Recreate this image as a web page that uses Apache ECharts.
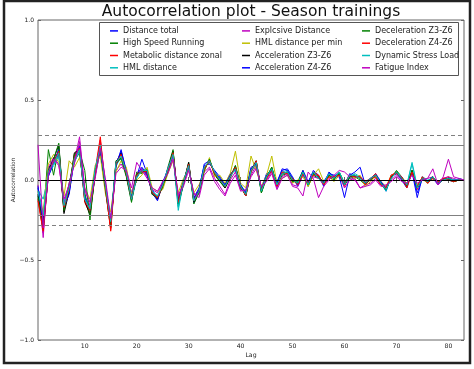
<!DOCTYPE html>
<html><head><meta charset="utf-8">
<script src="https://cdn.jsdelivr.net/npm/echarts@6/dist/echarts.min.js"></script>
<style>html,body{margin:0;padding:0;background:#fff}#c{width:474px;height:369px}</style>
</head><body><div id="c"></div>
<script>
const seriesNames = ["Distance total","High Speed Running","Metabolic distance zonal","HML distance","Explcsive Distance","HML distance per min","Acceleration Z3-Z6","Acceleration Z4-Z6","Deceleration Z3-Z6","Deceleration Z4-Z6","Dynamic Stress Load","Fatigue Index"];
const seriesColors = ["#0000ff","#008000","#ff0000","#00bfbf","#bf00bf","#bfbf00","#000000","#0000ff","#008000","#ff0000","#00bfbf","#bf00bf"];
const xTicks = [10,20,30,40,50,60,70,80];
const yTicks = [-1.0,-0.5,0.0,0.5,1.0];
const nObs = 83;

const distanceTotal = [
-0.05,-0.28,0.08,0.10,0.16,-0.16,-0.08,0.13,0.19,-0.10,
-0.18,0.07,0.20,-0.03,-0.26,0.08,0.18,0.06,-0.10,0.02,
0.13,0.04,-0.06,-0.12,-0.01,0.05,0.15,-0.12,0.00,0.08,
-0.11,-0.05,0.09,0.10,0.06,0.02,-0.03,0.04,0.06,-0.05,
-0.07,0.08,0.09,-0.05,0.04,0.05,-0.01,0.06,0.07,0.02,
-0.04,0.03,-0.02,0.06,0.03,-0.04,0.05,0.02,0.02,-0.11,
0.03,0.05,0.08,-0.03,0.01,0.04,-0.01,-0.07,0.03,0.04,
0.00,-0.05,0.05,-0.11,0.02,-0.02,0.01,-0.03,0.01,0.00,
-0.01,0.01,0.00];
const highSpeedRunning = [
-0.10,-0.25,0.19,0.03,0.21,-0.20,-0.02,0.12,0.17,-0.08,
-0.22,0.03,0.18,-0.07,-0.30,0.12,0.13,0.02,-0.14,0.05,
0.04,0.07,-0.09,-0.10,-0.05,0.08,0.19,-0.16,-0.03,0.11,
-0.15,-0.08,0.06,0.13,0.03,-0.01,-0.05,0.01,0.09,-0.03,
-0.10,0.05,0.12,-0.08,0.01,0.08,-0.04,0.03,0.04,-0.01,
-0.01,0.06,-0.04,0.03,0.01,-0.01,0.02,0.00,0.05,-0.02,
0.01,0.02,0.00,-0.03,0.01,0.02,-0.03,-0.05,0.01,0.06,
0.02,-0.03,0.05,-0.04,0.00,-0.01,0.01,-0.01,0.01,0.00,
-0.01,0.00,0.00];
const metabolicDistanceZonal = [
-0.12,-0.33,0.04,0.14,0.17,-0.19,-0.06,0.16,0.21,-0.14,
-0.21,0.06,0.27,-0.06,-0.31,0.11,0.14,0.05,-0.11,0.04,
0.05,0.04,-0.07,-0.12,-0.04,0.07,0.16,-0.13,-0.01,0.09,
-0.12,-0.06,0.08,0.11,0.05,0.01,-0.04,0.03,0.07,-0.05,
-0.08,0.07,0.10,-0.06,0.03,0.06,-0.02,0.05,0.04,0.01,
-0.03,0.04,-0.02,0.05,0.03,-0.03,0.04,0.02,0.03,-0.04,
0.03,0.02,0.02,-0.01,0.01,0.04,-0.03,-0.06,0.03,0.05,
0.01,-0.04,0.06,-0.06,0.02,-0.02,0.02,-0.02,0.01,0.02,
0.00,0.00,0.00];
const hmlDistance = [
-0.06,-0.12,0.03,0.09,0.15,-0.14,-0.03,0.11,0.18,-0.11,
-0.17,0.04,0.20,-0.04,-0.24,0.09,0.14,0.03,-0.13,0.01,
0.07,0.06,-0.07,-0.10,-0.04,0.07,0.16,-0.19,-0.01,0.10,
-0.14,-0.06,0.08,0.11,0.05,0.01,-0.03,0.03,0.07,-0.03,
-0.08,0.05,0.10,-0.06,0.03,0.06,-0.02,0.05,0.06,0.01,
-0.02,0.04,-0.03,0.05,0.01,-0.02,0.04,0.02,0.05,-0.02,
0.02,0.04,0.02,-0.02,0.01,0.03,-0.02,-0.07,0.02,0.05,
0.02,-0.03,0.11,-0.04,0.02,0.00,0.01,-0.02,0.00,0.01,
0.00,0.00,0.00];
const explosiveDistance = [
-0.03,-0.36,0.08,0.14,0.10,-0.15,-0.02,0.12,0.27,-0.06,
-0.16,0.02,0.24,-0.02,-0.27,0.06,0.10,0.05,-0.08,0.04,
0.07,0.02,-0.06,-0.08,-0.02,0.05,0.15,-0.10,-0.03,0.08,
-0.09,-0.09,0.05,0.08,0.01,-0.04,-0.09,0.00,0.05,-0.06,
-0.07,0.03,0.09,-0.05,0.00,0.05,-0.05,0.02,0.04,-0.03,
-0.04,0.03,-0.02,0.02,0.01,-0.03,0.01,0.02,0.03,-0.05,
0.00,0.01,-0.05,-0.03,-0.02,0.01,-0.03,-0.04,0.00,0.03,
0.00,-0.02,0.04,-0.03,0.00,0.01,0.02,-0.03,0.01,0.02,
0.01,0.00,0.00];
const hmlDistancePerMin = [
-0.07,-0.20,0.10,0.16,0.11,-0.10,0.12,0.08,0.14,-0.05,
-0.12,0.09,0.15,-0.09,-0.20,0.05,0.12,0.08,-0.09,0.00,
0.03,0.08,-0.05,-0.07,-0.06,0.04,0.12,-0.08,0.01,0.06,
-0.08,-0.03,0.05,0.14,0.02,0.03,-0.02,0.04,0.18,-0.02,
-0.05,0.15,0.06,-0.04,0.03,0.15,-0.02,0.01,0.03,-0.02,
0.00,0.02,-0.04,0.03,0.07,-0.01,0.02,-0.01,0.03,-0.03,
0.03,0.01,0.03,-0.04,-0.01,0.02,-0.01,-0.04,0.03,0.04,
0.02,-0.02,0.04,-0.03,0.01,-0.02,0.01,-0.01,0.00,0.01,
-0.01,0.00,0.00];
const accelerationZ3Z6 = [
-0.09,-0.29,0.06,0.13,0.22,-0.21,-0.07,0.17,0.19,-0.13,
-0.22,0.04,0.21,-0.05,-0.29,0.11,0.17,0.03,-0.12,0.02,
0.06,0.05,-0.09,-0.12,-0.03,0.06,0.18,-0.15,-0.02,0.11,
-0.14,-0.07,0.07,0.12,0.04,0.00,-0.05,0.02,0.08,-0.04,
-0.10,0.06,0.12,-0.07,0.02,0.07,-0.03,0.04,0.05,0.00,
-0.02,0.05,-0.03,0.04,0.02,-0.02,0.03,0.01,0.04,-0.03,
0.02,0.03,0.01,-0.02,0.00,0.03,-0.02,-0.06,0.02,0.05,
0.01,-0.04,0.06,-0.05,0.01,-0.01,0.02,-0.02,0.00,0.01,
-0.01,0.00,0.00];
const accelerationZ4Z6 = [
-0.04,-0.27,0.02,0.11,0.19,-0.17,-0.09,0.14,0.21,-0.11,
-0.19,0.06,0.19,-0.04,-0.27,0.09,0.19,0.05,-0.11,0.03,
0.08,0.03,-0.08,-0.13,-0.02,0.07,0.16,-0.13,-0.03,0.09,
-0.12,-0.06,0.10,0.12,0.05,0.01,-0.03,0.03,0.07,-0.03,
-0.08,0.07,0.10,-0.06,0.03,0.06,-0.02,0.07,0.06,0.01,
-0.03,0.06,-0.01,0.05,0.02,-0.01,0.04,0.03,0.03,-0.03,
0.04,0.02,0.02,-0.02,0.01,0.03,-0.01,-0.05,0.02,0.04,
0.02,-0.04,0.05,-0.08,0.01,-0.01,0.02,-0.02,0.00,0.01,
0.00,0.00,0.00];
const decelerationZ3Z6 = [
-0.11,-0.31,0.04,0.13,0.23,-0.19,-0.04,0.16,0.18,0.06,
-0.25,0.05,0.21,-0.06,-0.28,0.10,0.14,0.03,-0.13,0.04,
0.05,0.06,-0.09,-0.11,-0.04,0.05,0.18,-0.15,-0.02,0.10,
-0.13,-0.08,0.06,0.13,0.04,-0.01,-0.04,0.02,0.09,-0.05,
-0.09,0.06,0.11,-0.08,0.02,0.08,-0.03,0.04,0.05,0.00,
-0.02,0.05,-0.03,0.04,0.02,-0.02,0.03,0.01,0.04,-0.03,
0.02,0.03,0.01,-0.02,0.00,0.03,-0.02,-0.06,0.02,0.05,
0.01,-0.04,0.06,-0.05,0.01,-0.01,0.02,-0.02,0.00,0.01,
-0.01,0.00,0.00];
const decelerationZ4Z6 = [
-0.13,-0.32,0.05,0.11,0.18,-0.17,-0.06,0.14,0.20,-0.13,
-0.19,0.04,0.25,-0.05,-0.32,0.10,0.16,0.04,-0.12,0.03,
0.06,0.05,-0.08,-0.11,-0.03,0.06,0.17,-0.14,-0.02,0.10,
-0.13,-0.07,0.07,0.12,0.04,0.00,-0.04,0.02,0.08,-0.04,
-0.10,0.05,0.12,-0.06,0.01,0.06,-0.04,0.05,0.04,0.01,
-0.03,0.04,-0.02,0.03,0.03,-0.03,0.02,0.02,0.03,-0.02,
0.03,0.02,0.02,-0.03,0.01,0.02,-0.03,-0.05,0.03,0.04,
0.02,-0.05,0.05,-0.04,0.02,-0.02,0.01,-0.01,0.01,0.00,
-0.01,0.00,0.00];
const dynamicStressLoad = [
-0.07,-0.22,0.06,0.10,0.17,-0.16,-0.05,0.13,0.19,-0.12,
-0.18,0.07,0.21,-0.04,-0.26,0.11,0.15,0.05,-0.12,0.02,
0.06,0.06,-0.07,-0.10,-0.03,0.07,0.16,-0.17,-0.01,0.09,
-0.13,-0.07,0.08,0.12,0.05,0.00,-0.04,0.02,0.07,-0.04,
-0.09,0.06,0.11,-0.07,0.02,0.07,-0.03,0.04,0.05,0.00,
-0.02,0.05,-0.03,0.05,0.01,-0.02,0.04,0.01,0.05,-0.03,
0.03,0.03,0.01,-0.02,0.01,0.03,-0.02,-0.06,0.01,0.05,
0.01,-0.03,0.10,-0.05,0.01,-0.01,0.02,-0.02,0.00,0.01,
0.00,0.00,0.00];
const fatigueIndex = [
0.22,-0.30,0.03,0.13,0.09,-0.12,-0.03,0.10,0.24,-0.05,
-0.14,0.01,0.20,0.00,-0.24,0.04,0.08,0.06,-0.05,0.11,
0.06,0.01,-0.05,-0.07,-0.01,0.04,0.13,-0.09,-0.04,0.06,
-0.08,-0.11,0.03,0.07,-0.01,-0.06,-0.10,-0.02,0.03,-0.07,
-0.06,0.02,0.07,-0.04,-0.01,0.04,-0.06,0.01,0.03,-0.04,
-0.05,-0.10,0.05,0.01,-0.11,-0.04,0.00,0.03,0.06,0.05,
0.02,0.00,-0.05,-0.04,-0.03,0.00,-0.04,-0.03,-0.01,0.02,
-0.01,-0.02,0.03,-0.02,0.00,0.01,0.07,-0.03,0.02,0.13,
0.02,0.01,0.00];

const allValues = [distanceTotal,highSpeedRunning,metabolicDistanceZonal,hmlDistance,explosiveDistance,hmlDistancePerMin,accelerationZ3Z6,accelerationZ4Z6,decelerationZ3Z6,decelerationZ4Z6,dynamicStressLoad,fatigueIndex];
const lags = [];
for (let i = 1; i <= nObs; i++) lags.push(i);

const z95 = 1.959963984540054, z99 = 2.5758293035489;
const FONT = 'DejaVu Sans';

const series = allValues.map((vals, i) => ({
  name: seriesNames[i], type: 'line', data: lags.map((l, j) => [l, vals[j]]),
  showSymbol: false, symbol: 'none', color: seriesColors[i],
  lineStyle: {width: 1, color: seriesColors[i]}, z: i === 11 ? 5 : 2,
  emphasis: {disabled: true}
}));
series.push({
  type: 'line', data: [], z: 3, silent: true,
  markLine: {
    silent: true, symbol: 'none', label: {show: false}, animation: false,
    data: [
      {yAxis: z99/Math.sqrt(nObs), lineStyle: {color: '#808080', type: [4,3], width: 1}},
      {yAxis: -z99/Math.sqrt(nObs), lineStyle: {color: '#808080', type: [4,3], width: 1}},
      {yAxis: z95/Math.sqrt(nObs), lineStyle: {color: '#808080', type: 'solid', width: 1}},
      {yAxis: -z95/Math.sqrt(nObs), lineStyle: {color: '#808080', type: 'solid', width: 1}},
      {yAxis: 0, lineStyle: {color: '#000000', type: 'solid', width: 1}}
    ]
  }
});

function legendCol(names, left) {
  return {
    orient: 'vertical', left: left, top: 25, data: names, z: 8,
    icon: 'rect', itemWidth: 8, itemHeight: 1.5, itemGap: 0.5, padding: 0,
    selectedMode: false,
    textStyle: {fontFamily: FONT, fontSize: 8, color: '#222', lineHeight: 11.8}
  };
}

const fmtY = v => (v < 0 ? '\u2212' : '') + Math.abs(v).toFixed(1);

const option = {
  animation: false,
  backgroundColor: '#ffffff',
  title: {
    text: 'Autocorrelation plot - Season trainings', left: 251, top: 4, padding: 0,
    textAlign: 'center',
    textStyle: {fontFamily: FONT, fontSize: 15.5, fontWeight: 'normal', color: '#111'}
  },
  legend: [legendCol(seriesNames.slice(0,4), 110), legendCol(seriesNames.slice(4,8), 242), legendCol(seriesNames.slice(8,12), 362)],
  grid: {left: 38, top: 20, right: 10, bottom: 29, show: true, borderColor: '#666', borderWidth: 1, backgroundColor: 'transparent', outerBoundsMode: 'none', containLabel: false},
  xAxis: [
    {type: 'value', min: 1, max: nObs, position: 'bottom',
     name: 'Lag', nameLocation: 'middle', nameGap: 12, nameMoveOverlap: false,
     nameTextStyle: {fontFamily: FONT, fontSize: 6.2, color: '#222'},
     axisLine: {show: false}, splitLine: {show: false},
     axisTick: {inside: true, length: 3, lineStyle: {color: '#666'}, customValues: xTicks},
     axisLabel: {fontFamily: FONT, fontSize: 6.2, color: '#222', margin: 3, customValues: xTicks}},
    {type: 'value', min: 1, max: nObs, position: 'top',
     axisLine: {show: false}, splitLine: {show: false},
     axisTick: {inside: true, length: 3, lineStyle: {color: '#666'}, customValues: xTicks},
     axisLabel: {show: false}}
  ],
  yAxis: [
    {type: 'value', min: -1, max: 1, interval: 0.5, position: 'left',
     name: 'Autocorrelation', nameLocation: 'middle', nameGap: 22, nameMoveOverlap: false,
     nameTextStyle: {fontFamily: FONT, fontSize: 5.8, color: '#222'},
     axisLine: {show: false}, splitLine: {show: false},
     axisTick: {inside: true, length: 3, lineStyle: {color: '#666'}},
     axisLabel: {fontFamily: FONT, fontSize: 6, color: '#222', margin: 4, formatter: fmtY}},
    {type: 'value', min: -1, max: 1, interval: 0.5, position: 'right',
     axisLine: {show: false}, splitLine: {show: false},
     axisTick: {inside: true, length: 3, lineStyle: {color: '#666'}},
     axisLabel: {show: false}}
  ],
  graphic: [
    {type: 'rect', shape: {x: 99.5, y: 22.5, width: 359, height: 53}, z: 1,
     style: {fill: '#fff', stroke: '#555', lineWidth: 1}, silent: true},
    {type: 'rect', shape: {x: 4, y: 1, width: 466, height: 362}, z: 20,
     style: {fill: 'none', stroke: '#222', lineWidth: 2.5}, silent: true}
  ],
  series: series
};
const chart = echarts.init(document.getElementById('c'), null, {renderer: 'canvas'});
chart.setOption(option);
</script></body></html>
